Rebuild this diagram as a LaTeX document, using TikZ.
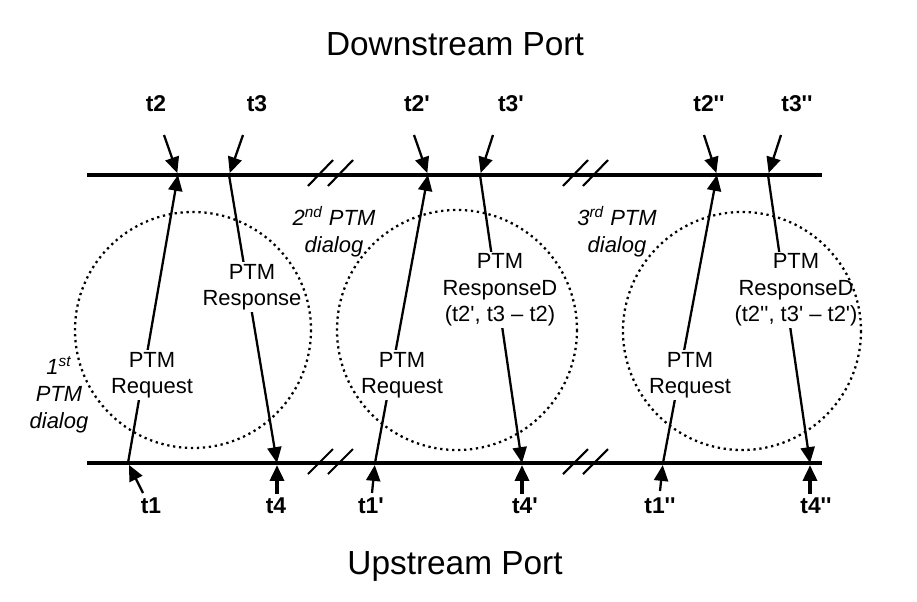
\documentclass[tikz,border=0pt]{standalone}
\usepackage{fontspec}
\setmainfont{Liberation Sans}[Ligatures=TeXOff]
\usetikzlibrary{arrows.meta}

\begin{document}
\begin{tikzpicture}[x=0.02cm, y=-0.02cm,
    >={Triangle[length=9pt, width=8pt]},
    port/.style={line width=2.1pt},
    msg/.style={line width=1.3pt, ->},
    tick/.style={line width=1.3pt, ->, shorten >=1.2pt},
    fattick/.style={line width=1.9pt, ->, shorten >=1.2pt},
    brk/.style={line width=1.2pt},
    dialog/.style={line width=1.3pt, dash pattern=on 1.3pt off 2.1pt},
    lbl/.style={font=\fontsize{12.5}{15}\selectfont, align=center, fill=white, inner sep=1pt},
    dlbl/.style={font=\fontsize{12.5}{15.4}\selectfont\itshape, align=center},
    tname/.style={font=\fontsize{13}{15}\selectfont\bfseries},
    title/.style={font=\fontsize{19}{23}\selectfont}]
  \useasboundingbox (0,0) rectangle (917,602);

  % ports
  \node[title] (down) at (455,44) {Downstream Port};
  \node[title] (up) at (455,566) {Upstream Port};
  \coordinate (dsL) at (87,175);
  \coordinate (dsR) at (822,175);
  \coordinate (usL) at (87,463);
  \coordinate (usR) at (822,463);
  \draw[port] (dsL) -- (dsR);
  \draw[port] (usL) -- (usR);
  \foreach \bx in {320,340,575,595} {
    \draw[brk] (\bx-12,186) -- (\bx+13,160);
    \draw[brk] (\bx-12,474) -- (\bx+13,449);
  }

  % time stamps
  \coordinate (t1) at (128,463);
  \coordinate (t2) at (178,175);
  \coordinate (t3) at (229,175);
  \coordinate (t4) at (277,463);
  \coordinate (t1p) at (375,463);
  \coordinate (t2p) at (428,175);
  \coordinate (t3p) at (480,175);
  \coordinate (t4p) at (522,463);
  \coordinate (t1pp) at (663,463);
  \coordinate (t2pp) at (717,175);
  \coordinate (t3pp) at (768,175);
  \coordinate (t4pp) at (810,463);

  % messages
  \draw[msg] (t1) -- (t2);
  \draw[msg] (t3) -- (t4);
  \draw[msg] (t1p) -- (t2p);
  \draw[msg] (t3p) -- (t4p);
  \draw[msg] (t1pp) -- (t2pp);
  \draw[msg] (t3pp) -- (t4pp);

  \node[lbl] (req1) at (152,375) {PTM\\Request};
  \node[lbl] (rsp1) at (252,287) {PTM\\Response};
  \node[lbl] (req2) at (402,375) {PTM\\Request};
  \node[lbl] (rsp2) at (500,290) {PTM\\ResponseD\\(t2', t3 – t2)};
  \node[lbl] (req3) at (690,375) {PTM\\Request};
  \node[lbl] (rsp3) at (796,290) {PTM\\ResponseD\\(t2'', t3' – t2')};

  % dialogs
  \draw[dialog] (193,330) circle[radius=118];
  \draw[dialog] (457,330) circle[radius=120];
  \draw[dialog] (742,331) circle[radius=119];
  \node[dlbl] (dlg1) at (59,395) {1\textsuperscript{st}\\PTM\\dialog};
  \node[dlbl] (dlg2) at (334,232) {2\textsuperscript{nd} PTM\\dialog};
  \node[dlbl] (dlg3) at (617,232) {3\textsuperscript{rd} PTM\\dialog};

  % time stamp pointers
  \coordinate (p2) at (164,135);
  \coordinate (p3) at (243,135);
  \coordinate (p2p) at (414,135);
  \coordinate (p3p) at (493,135);
  \coordinate (p2pp) at (704,135);
  \coordinate (p3pp) at (781,135);
  \coordinate (p1) at (143,493);
  \coordinate (p4) at (277,494);
  \coordinate (p1p) at (372,493);
  \coordinate (p4p) at (522,494);
  \coordinate (p1pp) at (660,491);
  \coordinate (p4pp) at (810,494);
  \draw[tick] (p2) -- (t2);
  \draw[tick] (p3) -- (t3);
  \draw[tick] (p2p) -- (t2p);
  \draw[tick] (p3p) -- (t3p);
  \draw[tick] (p2pp) -- (t2pp);
  \draw[tick] (p3pp) -- (t3pp);
  \draw[tick] (p1) -- (t1);
  \draw[fattick] (p4) -- (t4);
  \draw[tick] (p1p) -- (t1p);
  \draw[fattick] (p4p) -- (t4p);
  \draw[tick] (p1pp) -- (t1pp);
  \draw[fattick] (p4pp) -- (t4pp);

  \node[tname] (n2) at (156,104) {t2};
  \node[tname] (n3) at (257,104) {t3};
  \node[tname] (n2p) at (417,104) {t2'};
  \node[tname] (n3p) at (511,104) {t3'};
  \node[tname] (n2pp) at (709,104) {t2''};
  \node[tname] (n3pp) at (797,104) {t3''};
  \node[tname] (n1) at (151,506) {t1};
  \node[tname] (n4) at (276,506) {t4};
  \node[tname] (n1p) at (371,506) {t1'};
  \node[tname] (n4p) at (525,506) {t4'};
  \node[tname] (n1pp) at (660,506) {t1''};
  \node[tname] (n4pp) at (816,506) {t4''};
\end{tikzpicture}
\end{document}
